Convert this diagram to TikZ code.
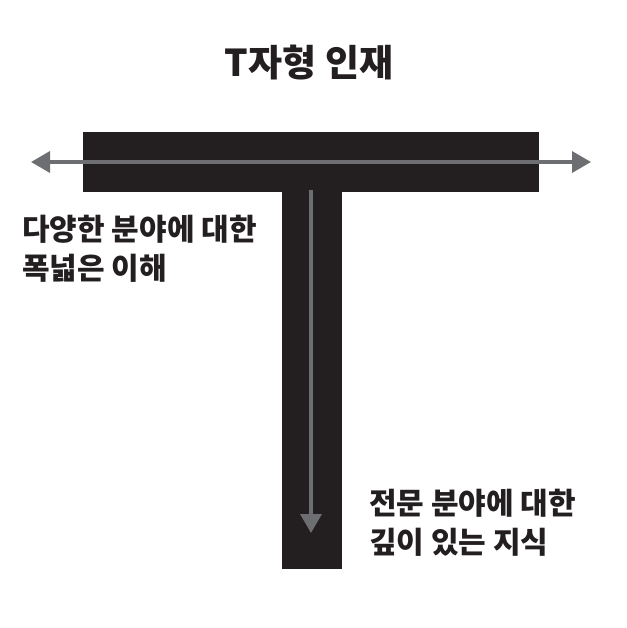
\documentclass[tikz,border=0pt]{standalone}
\usepackage{fontspec}
\newfontfamily\cjk{Noto Sans CJK KR}
\usetikzlibrary{arrows.meta}
\definecolor{barblack}{HTML}{231F20}
\definecolor{arrowgray}{HTML}{6D6E71}
\tikzset{
  bar/.style={fill=barblack},
  axis/.style={draw=arrowgray, line width=3.5pt,
    -{Triangle[length=19pt,width=21pt]}},
  label/.style={font=\cjk\bfseries\fontsize{30}{39}\selectfont,
    align=left, anchor=base west, inner sep=0pt, text=barblack}
}
\begin{document}
\begin{tikzpicture}[x=1pt,y=-1pt]
      \useasboundingbox (0,0) rectangle (626,628);
      % title
      \node[font=\cjk\bfseries\fontsize{37}{40}\selectfont, text=barblack,
        anchor=base, inner sep=0pt] (title) at (309,77) {T자형 인재};
      % the T
      \fill[bar] (83,132) rectangle (539,192);
      \fill[bar] (282,190) rectangle (342,569);
      % axes
      \coordinate (left) at (31,162);
      \coordinate (right) at (591,162);
      \coordinate (mid) at (311,162);
      \coordinate (top) at (311,190);
      \coordinate (bottom) at (311,533);
      \draw[axis] (mid) to (left);
      \draw[axis] (mid) to (right);
      \draw[axis] (top) to (bottom);
      % labels
      \node[label] (broad) at (22,279) {다양한 분야에 대한\\폭넓은 이해};
      \node[label] (deep) at (369,553) {전문 분야에 대한\\깊이 있는 지식};
    \end{tikzpicture}
\end{document}
